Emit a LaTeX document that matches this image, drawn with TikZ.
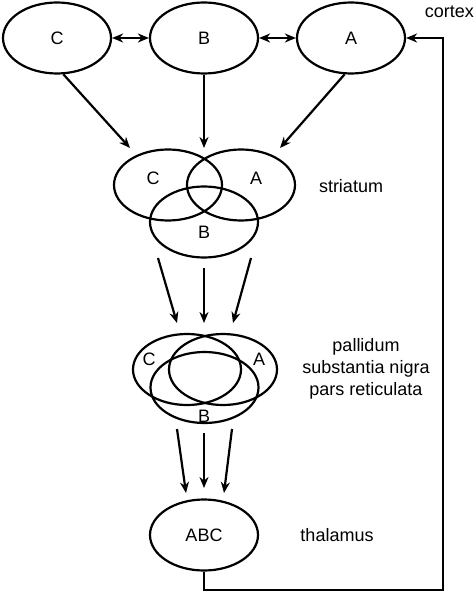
\documentclass[tikz,border=0pt]{standalone}
\usepackage{fontspec}
\setmainfont{Liberation Sans}
\usetikzlibrary{positioning}
\usetikzlibrary{shapes.geometric}
\usetikzlibrary{arrows.meta}

\begin{document}
\begin{tikzpicture}[x=1pt,y=-1pt]

            \tikzstyle{region} = [draw, ellipse, line width=2.2pt, minimum width=108pt, minimum height=71pt, inner sep=0pt, font=\fontsize{18}{22}\selectfont];
            \tikzstyle{areaLabel} = [inner sep=0pt, align=center, font=\fontsize{18}{22}\selectfont];
            \tikzstyle{projEdge} = [line width=2.2pt, -{Stealth[length=11pt,width=9pt]}];
            \tikzstyle{mutualEdge} = [line width=2.2pt, {Stealth[length=11pt,width=9pt]}-{Stealth[length=11pt,width=9pt]}];

            \useasboundingbox (0,0) rectangle (474,593);

            % cortex
            \node[region] (cxC) at (57,38) {C};
            \node[region] (cxB) at (204,38) {B};
            \node[region] (cxA) at (351,38) {A};
            \node[areaLabel, anchor=east] (cortex) at (474,12) {cortex};

            % striatum
            \node[region] (stC) at (168,185) {};
            \node[region] (stA) at (241,185) {};
            \node[region] (stB) at (204,222) {};
            \node[areaLabel] (stCl) at (153,178) {C};
            \node[areaLabel] (stAl) at (256,178) {A};
            \node[areaLabel] (stBl) at (204,232) {B};
            \node[areaLabel] (striatum) at (351,186) {striatum};

            % pallidum
            \node[region] (plC) at (187,369.5) {};
            \node[region] (plA) at (223,369.5) {};
            \node[region] (plB) at (204.5,387.5) {};
            \node[areaLabel] (plCl) at (149,359) {C};
            \node[areaLabel] (plAl) at (259,359) {A};
            \node[areaLabel] (plBl) at (204,416) {B};
            \node[areaLabel] (pallidum) at (366,369) {pallidum\\substantia nigra\\pars reticulata};

            % thalamus
            \node[region] (thal) at (204,535) {ABC};
            \node[areaLabel] (thalamus) at (337,535) {thalamus};

            \coordinate (inC) at (130,148);
            \coordinate (inB) at (204,148);
            \coordinate (inA) at (280,148);
            \coordinate (stOutC) at (158,258);
            \coordinate (stOutB) at (204,268);
            \coordinate (stOutA) at (251,258);
            \coordinate (plInC) at (177,323);
            \coordinate (plInB) at (204,323);
            \coordinate (plInA) at (233,323);
            \coordinate (plOutC) at (177,429);
            \coordinate (plOutB) at (204,433);
            \coordinate (plOutA) at (232,429);
            \coordinate (thInC) at (186,493);
            \coordinate (thInB) at (204,488);
            \coordinate (thInA) at (224,493);
            \coordinate (loop) at (443,590);

            \draw[mutualEdge] (cxC) -- (cxB);
            \draw[mutualEdge] (cxB) -- (cxA);

            \draw[projEdge] (cxC.-80) -- (inC);
            \draw[projEdge] (cxB.south) -- (inB);
            \draw[projEdge] (cxA.-100) -- (inA);

            \draw[projEdge] (stOutC) -- (plInC);
            \draw[projEdge] (stOutB) -- (plInB);
            \draw[projEdge] (stOutA) -- (plInA);

            \draw[projEdge] (plOutC) -- (thInC);
            \draw[projEdge] (plOutB) -- (thInB);
            \draw[projEdge] (plOutA) -- (thInA);

            \draw[projEdge] (thal.south) |- (loop) |- (cxA.east);
          \end{tikzpicture}
\end{document}
